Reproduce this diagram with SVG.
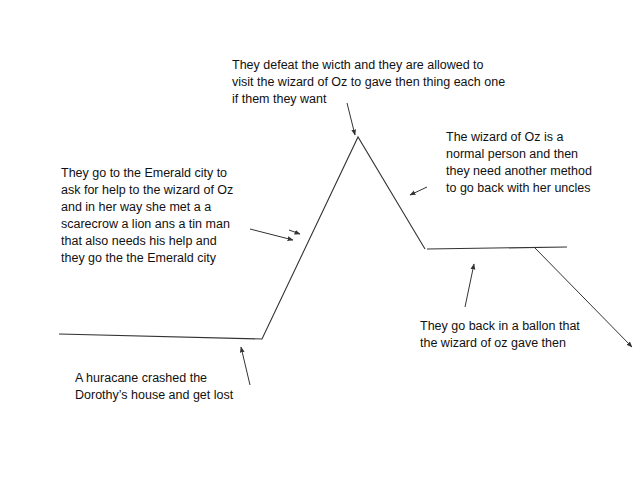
<svg xmlns="http://www.w3.org/2000/svg" width="638" height="478" viewBox="0 0 638 478">
<style>
text{font-family:"Liberation Sans",Arial,sans-serif;font-size:12.5px;fill:#111}
.l{stroke:#333;stroke-width:1.1;fill:none}
.a{stroke:#333;stroke-width:1;fill:none;marker-end:url(#ah)}
</style>
<defs><marker id="ah" viewBox="0 0 10 10" refX="9" refY="5" markerWidth="6" markerHeight="6" orient="auto" markerUnits="userSpaceOnUse"><path d="M0,1 L10,5 L0,9 z" fill="#333"/></marker></defs>
<rect width="638" height="478" fill="#fff"/>
<g id="connectors">
<polyline class="l" points="59,334 262,339 358,137 425,249"/>
<line class="l" x1="427" y1="249" x2="567" y2="247"/>
<line class="a" x1="535" y1="248" x2="632" y2="347"/>
<line class="a" x1="347" y1="103" x2="355" y2="135"/>
<line class="a" x1="427" y1="187" x2="410" y2="195"/>
<line class="a" x1="250" y1="229" x2="293" y2="240"/>
<line class="a" x1="289" y1="230" x2="300" y2="234"/>
<line class="a" x1="250" y1="385" x2="241" y2="347"/>
<line class="a" x1="465" y1="307" x2="474" y2="264"/>
</g>
<g id="top"><text x="232" y="69">They defeat the wicth and they are allowed to</text><text x="232" y="86">visit the wizard of Oz to gave then thing each one</text><text x="232" y="103">if them they want</text></g>
<g id="right"><text x="446" y="141">The wizard of Oz is a</text><text x="446" y="158">normal person and then</text><text x="446" y="175">they need another method</text><text x="446" y="192">to go back with her uncles</text></g>
<g id="left"><text x="61" y="177">They go to the Emerald city to</text><text x="61" y="194">ask for help to the wizard of Oz</text><text x="61" y="211">and in her way she met a a</text><text x="61" y="228">scarecrow a lion ans a tin man</text><text x="61" y="245">that also needs his help and</text><text x="61" y="262">they go the the Emerald city</text></g>
<g id="bottomright"><text x="420" y="330">They go back in a ballon that</text><text x="420" y="347">the wizard of oz gave then</text></g>
<g id="bottomleft"><text x="75" y="382">A huracane crashed the</text><text x="75" y="399">Dorothy’s house and get lost</text></g>
</svg>
